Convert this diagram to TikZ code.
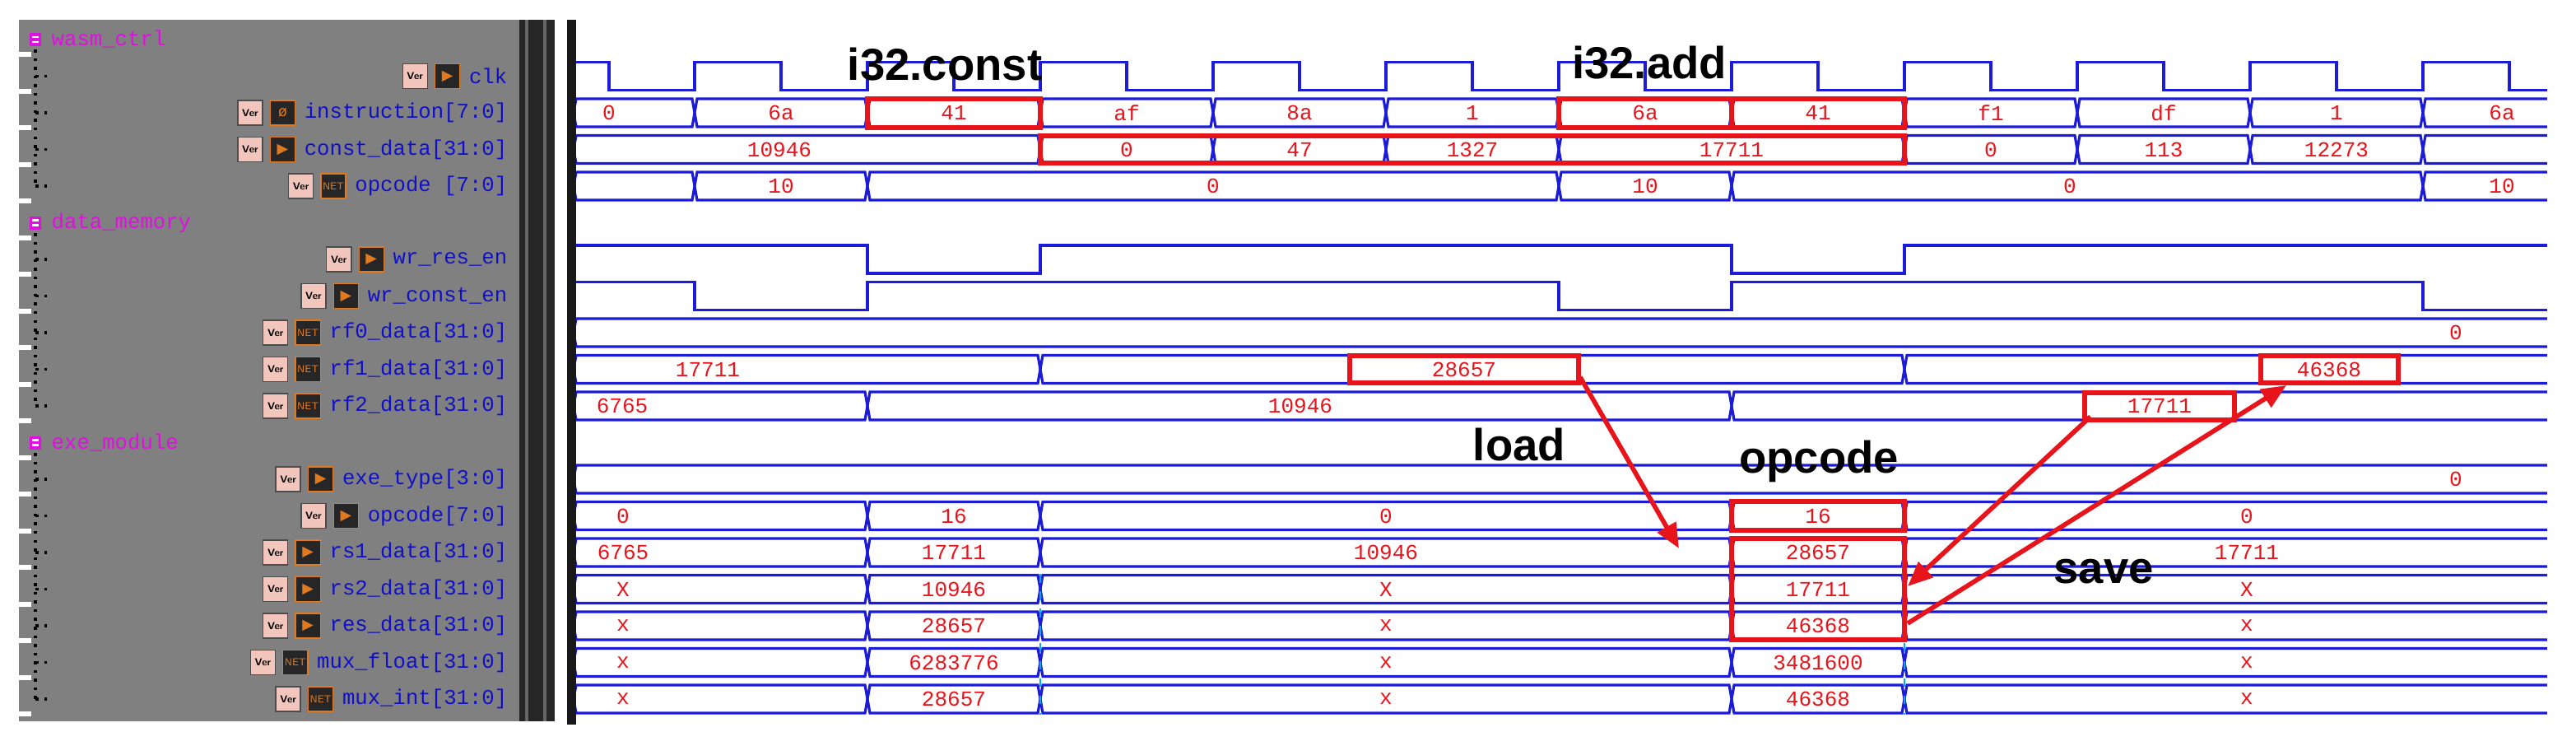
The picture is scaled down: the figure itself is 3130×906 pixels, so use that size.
\documentclass[tikz,border=0pt]{standalone}
\usepackage{fontspec}
\setmainfont{Liberation Sans}
\newfontfamily\monof{Liberation Mono}
\newfontfamily\djv{DejaVu Sans}
\usetikzlibrary{positioning,arrows.meta}
\definecolor{wblue}{HTML}{1C1CD8}
\definecolor{lblue}{HTML}{1010C8}
\definecolor{wred}{HTML}{E8141C}
\definecolor{panel}{HTML}{808080}
\definecolor{mag}{HTML}{E010E0}
\definecolor{pinkv}{HTML}{F2C6BC}
\definecolor{ornge}{HTML}{E07A20}
\tikzset{
  wv/.style={draw=wblue,line width=0.9pt},
  val/.style={text=wred,font=\monof\fontsize{7.4}{8}\selectfont,inner sep=0pt},
  lbl/.style={text=lblue,font=\monof\fontsize{7.3}{8}\selectfont,inner sep=0pt,anchor=east},
  hdr/.style={text=mag,font=\monof\fontsize{7.3}{8}\selectfont,inner sep=0pt,anchor=west},
  verbox/.style={draw=gray!60!black,fill=pinkv,minimum width=0.3cm,minimum height=0.3cm,inner sep=0pt,font=\sffamily\fontsize{3.5}{4}\selectfont\bfseries},
  iconbox/.style={draw=ornge,fill=black!85,minimum width=0.3cm,minimum height=0.3cm,inner sep=0pt,text=ornge,font=\djv\fontsize{5}{5}\selectfont},
  rbox/.style={draw=wred,line width=1.5pt},
  rarrow/.style={draw=wred,line width=1.6pt,-{Triangle[length=0.3cm,width=0.25cm]}},
  note/.style={font=\bfseries\fontsize{15.5}{17}\selectfont,inner sep=0pt}
}
\newcommand\busrow[2]{\foreach \a/\b/\t/\x in {#2}{\draw[wv] (\a,#1)--({\a+3},{#1-17})--({\b-3},{#1-17})--(\b,#1)--({\b-3},{#1+17})--({\a+3},{#1+17})--cycle; \node[val] at (\x,#1) {\t};}}
\newcommand\sigrow[4]{\node[lbl] (L#1) at (617,#2) {#3};
  \node[iconbox,left=0.1cm of L#1] (I#1) {#4};
  \node[verbox,left=0.08cm of I#1] (V#1) {Ver};}
\begin{document}
\begin{tikzpicture}[x=0.01cm,y=-0.01cm]
\useasboundingbox (0,0) rectangle (3130,906);
\fill[white] (0,0) rectangle (3130,906);
% left panel
\fill[panel] (23,24) rectangle (631,876);
\fill[black!85] (631,24) rectangle (674,876);
\draw[black!60,line width=1pt] (640,24)--(640,876) (662,24)--(662,876);
\foreach \k in {0,...,18}{\fill[white] (23,{63+44.5*\k}) rectangle (38,{69+44.5*\k});}
% headers
\foreach \n/\t/\y in {A/wasm\_ctrl/48,B/data\_memory/270.5,C/exe\_module/537.5}{
  \fill[mag] (36,\y-8) rectangle (50,\y+8);
  \draw[white,line width=0.8pt] (39,\y-3)--(47,\y-3) (39,\y+3)--(47,\y+3);
  \node[hdr] (H\n) at (62,\y) {\t};}
\draw[black,dotted,line width=1pt] (43,60)--(43,226) (43,283)--(43,493) (43,550)--(43,849);
\foreach \y in {92.5,137,181.5,226,315,359.5,404,448.5,493,582,626.5,671,715.5,760,804.5,849}{\draw[black,dotted,line width=1pt] (43,\y)--(58,\y);}
% signal labels
\sigrow{a}{92.5}{clk}{▶}
\sigrow{b}{137}{instruction[7:0]}{ø}
\sigrow{c}{181.5}{const\_data[31:0]}{▶}
\sigrow{d}{226}{opcode [7:0]}{\sffamily\fontsize{3.5}{4}\selectfont NET}
\sigrow{e}{315}{wr\_res\_en}{▶}
\sigrow{f}{359.5}{wr\_const\_en}{▶}
\sigrow{g}{404}{rf0\_data[31:0]}{\sffamily\fontsize{3.5}{4}\selectfont NET}
\sigrow{h}{448.5}{rf1\_data[31:0]}{\sffamily\fontsize{3.5}{4}\selectfont NET}
\sigrow{i}{493}{rf2\_data[31:0]}{\sffamily\fontsize{3.5}{4}\selectfont NET}
\sigrow{j}{582}{exe\_type[3:0]}{▶}
\sigrow{k}{626.5}{opcode[7:0]}{▶}
\sigrow{l}{671}{rs1\_data[31:0]}{▶}
\sigrow{m}{715.5}{rs2\_data[31:0]}{▶}
\sigrow{n}{760}{res\_data[31:0]}{▶}
\sigrow{o}{804.5}{mux\_float[31:0]}{\sffamily\fontsize{3.5}{4}\selectfont NET}
\sigrow{p}{849}{mux\_int[31:0]}{\sffamily\fontsize{3.5}{4}\selectfont NET}
% clk
\draw[wv] (697,75.5)--(740,75.5)--(740,109.5)
  \foreach \i in {0,...,10}{ --({844+210*\i},109.5)--({844+210*\i},75.5)--({949+210*\i},75.5)--({949+210*\i},109.5)} --(3095,109.5);
% digital
\draw[wv] (697,298)--(1054,298)--(1054,332)--(1264,332)--(1264,298)--(2104,298)--(2104,332)--(2314,332)--(2314,298)--(3095,298);
\draw[wv] (697,342.5)--(844,342.5)--(844,376.5)--(1054,376.5)--(1054,342.5)--(1894,342.5)--(1894,376.5)--(2104,376.5)--(2104,342.5)--(2944,342.5)--(2944,376.5)--(3095,376.5);
% buses
\busrow{137}{697/844/0/740,844/1054/6a/949,1054/1264/41/1159,1264/1474/af/1369,1474/1684/8a/1579,1684/1894/1/1789,1894/2104/6a/1999,2104/2314/41/2209,2314/2524/f1/2419,2524/2734/df/2629,2734/2944/1/2839,2944/3100/6a/3040}
\busrow{181.5}{697/1264/10946/947,1264/1474/0/1369,1474/1684/47/1579,1684/1894/1327/1789,1894/2314/17711/2104,2314/2524/0/2419,2524/2734/113/2629,2734/2944/12273/2839,2944/3100//3000}
\busrow{226}{697/844//770,844/1054/10/949,1054/1894/0/1474,1894/2104/10/1999,2104/2944/0/2515,2944/3100/10/3040}
\busrow{404}{697/3100/0/2984}
\busrow{448.5}{697/1264/17711/860,1264/2314/28657/1779,2314/3100/46368/2830}
\busrow{493}{697/1054/6765/756,1054/2104/10946/1580,2104/3100/17711/2624}
\busrow{582}{697/3100/0/2984}
\busrow{626.5}{697/1054/0/757,1054/1264/16/1159,1264/2104/0/1684,2104/2314/16/2209,2314/3100/0/2730}
\busrow{671}{697/1054/6765/757,1054/1264/17711/1159,1264/2104/10946/1684,2104/2314/28657/2209,2314/3100/17711/2730}
\busrow{715.5}{697/1054/X/757,1054/1264/10946/1159,1264/2104/X/1684,2104/2314/17711/2209,2314/3100/X/2730}
\busrow{760}{697/1054/x/757,1054/1264/28657/1159,1264/2104/x/1684,2104/2314/46368/2209,2314/3100/x/2730}
\busrow{804.5}{697/1054/x/757,1054/1264/6283776/1159,1264/2104/x/1684,2104/2314/3481600/2209,2314/3100/x/2730}
\busrow{849}{697/1054/x/757,1054/1264/28657/1159,1264/2104/x/1684,2104/2314/46368/2209,2314/3100/x/2730}
\fill[white] (3095,60) rectangle (3130,880);
\draw[cyan,dashed,line width=0.6pt] (1264,697)--(1264,868) (2314,697)--(2314,868);
% separator
\fill[black!90] (689,24) rectangle (700,880);
% red boxes
\draw[rbox] (1054,120) rectangle (1264,155);
\draw[rbox] (1894,120) rectangle (2104,155);
\draw[rbox] (2104,120) rectangle (2314,155);
\draw[rbox] (1264,165) rectangle (2314,198);
\draw[rbox] (1640,432) rectangle (1918,465);
\draw[rbox] (2747,432) rectangle (2914,465);
\draw[rbox] (2533,477) rectangle (2715,510);
\draw[rbox] (2104,609) rectangle (2314,644);
\draw[rbox] (2104,654) rectangle (2314,777);
\coordinate (ld1) at (1920,458);
\coordinate (ld2) at (2040,666);
\coordinate (sv1) at (2540,506);
\coordinate (sv2) at (2318,712);
\coordinate (sv3) at (2318,757);
\coordinate (sv4) at (2778,468);
\draw[rarrow] (ld1)--(ld2);
\draw[rarrow] (sv1)--(sv2);
\draw[rarrow] (sv3)--(sv4);
% notes
\node[note] (n1) at (1148,78) {i32.const};
\node[note] (n2) at (2004,76) {i32.add};
\node[note] (n3) at (1846,540) {load};
\node[note] (n4) at (2210,560) {opcode};
\node[note] (n5) at (2556,694) {save};
\end{tikzpicture}
\end{document}
